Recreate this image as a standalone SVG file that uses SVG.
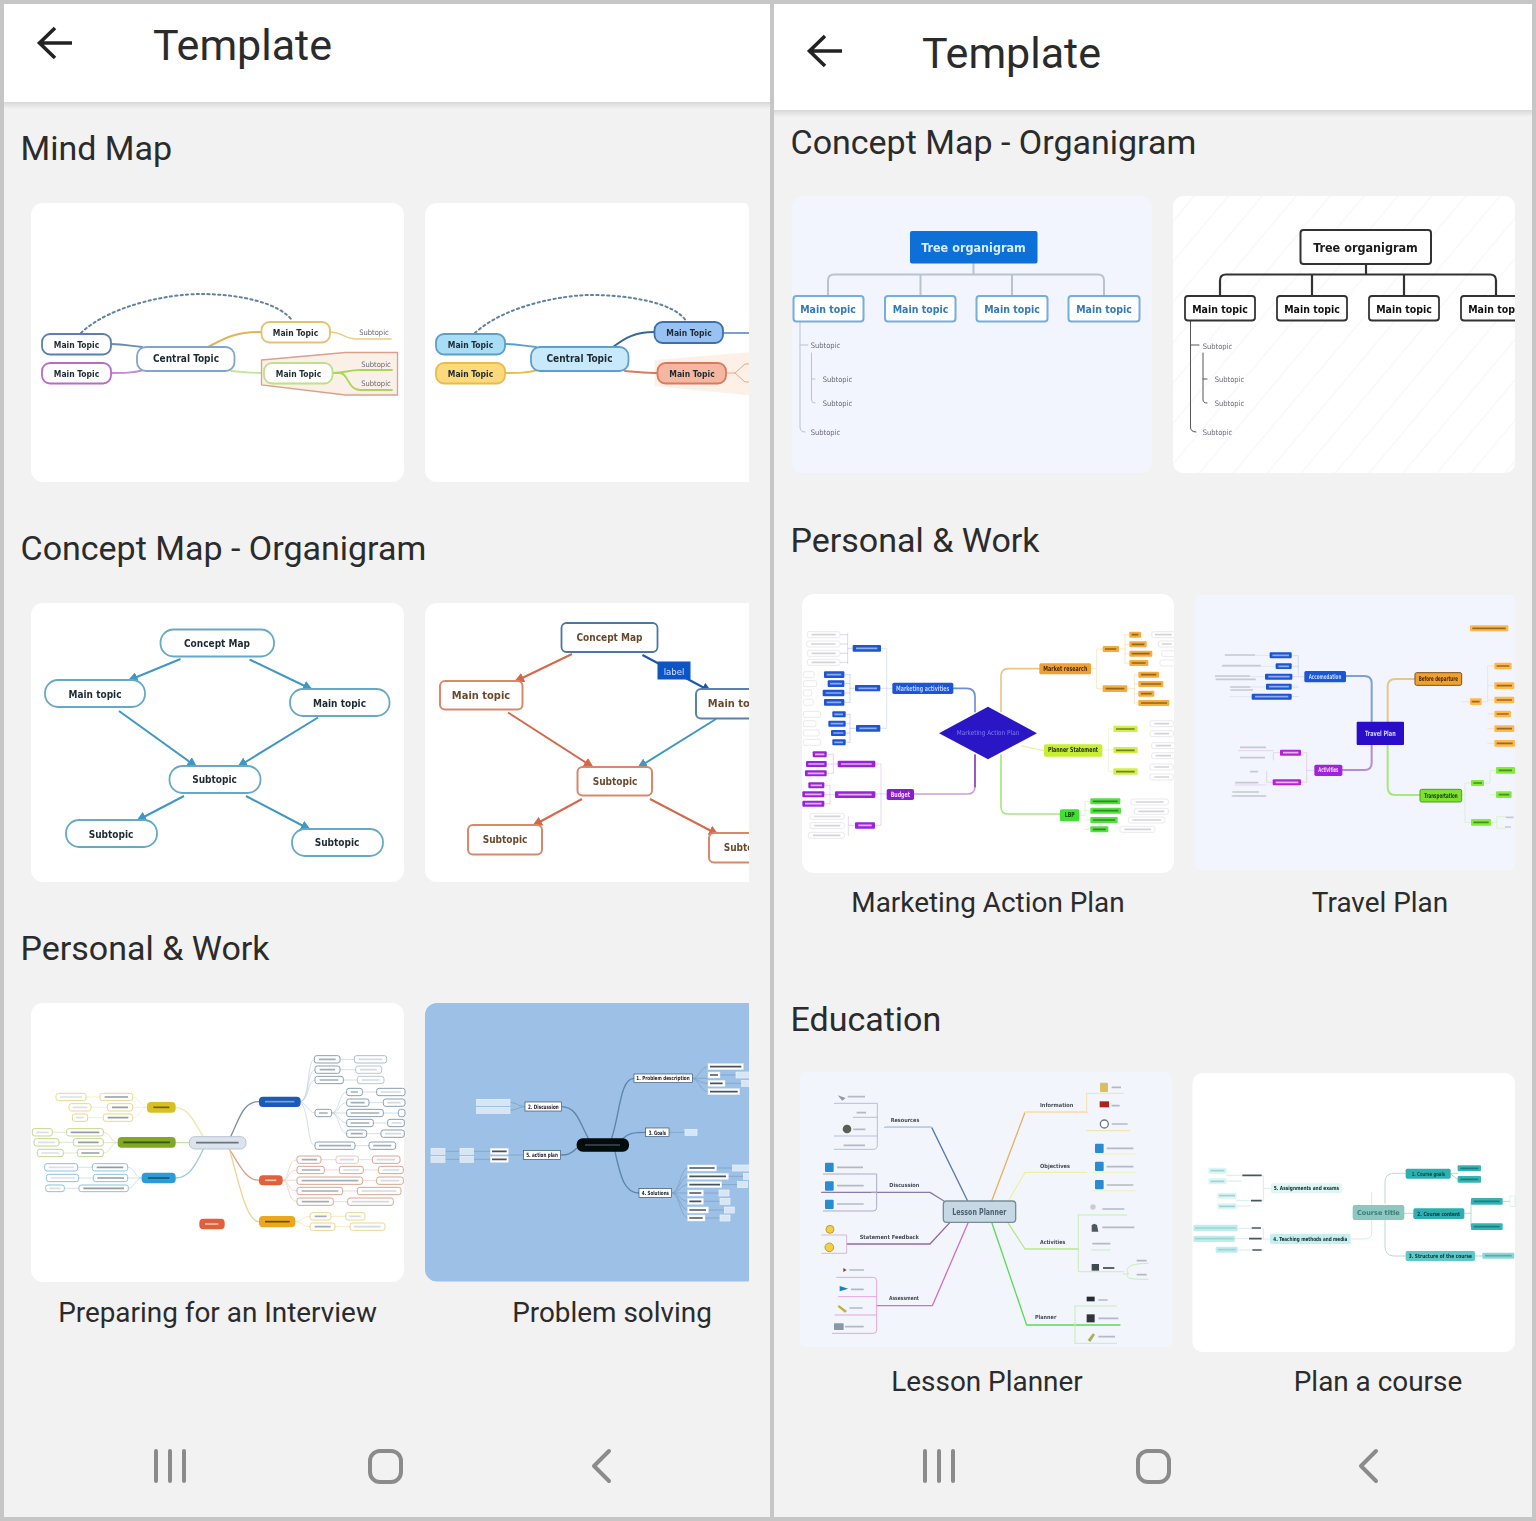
<svg xmlns="http://www.w3.org/2000/svg" width="1536" height="1521" viewBox="0 0 1536 1521">
<defs>
<style>
.ui{font-family:Roboto,"Liberation Sans",sans-serif;fill:#2b2b2b}
.h{font-size:43px}
.s{font-size:34px}
.c{font-size:27.9px;text-anchor:middle}
.n{font-family:"DejaVu Sans",sans-serif;font-stretch:condensed;font-weight:700;text-anchor:middle;dominant-baseline:central;fill:#1e2a33}
.m{font-size:8.5px}
.l{font-size:10px}
.sub{font-family:"DejaVu Sans",sans-serif;font-stretch:condensed;font-size:7.5px;text-anchor:middle;dominant-baseline:central;fill:#667}
.z{font-family:"DejaVu Sans",sans-serif;font-stretch:condensed;font-weight:700;text-anchor:middle;dominant-baseline:central}
.card{fill:#fff}
.nav{fill:none;stroke:#8b8b8b;stroke-width:4;stroke-linecap:round;stroke-linejoin:round}
.back{fill:none;stroke:#222;stroke-width:3.6}
.w{fill:none;stroke-linecap:round;stroke-linejoin:round}
.ar{fill:none;stroke-width:2}
.o{fill:#fff;stroke-width:3}
.bar{fill:none;stroke-width:5;stroke-linecap:butt}
</style>
<filter id="b1" x="-5%" y="-5%" width="110%" height="110%"><feGaussianBlur stdDeviation="0.5"/></filter>
<filter id="b2" x="-5%" y="-5%" width="110%" height="110%"><feGaussianBlur stdDeviation="0.6"/></filter>
<linearGradient id="hs" x1="0" y1="0" x2="0" y2="1"><stop offset="0" stop-color="#d8d8d8"/><stop offset="1" stop-color="#f2f2f2"/></linearGradient>
<pattern id="hatch" width="26" height="26" patternUnits="userSpaceOnUse" patternTransform="rotate(-50)"><rect width="26" height="26" fill="#fff"/><line x1="0" y1="0" x2="26" y2="0" stroke="#f8f8fa" stroke-width="3"/></pattern>
<marker id="aB" viewBox="0 0 10 10" refX="8" refY="5" markerWidth="5" markerHeight="5" orient="auto"><path d="M0 0L10 5L0 10z" fill="#3f97c4"/></marker>
<marker id="aO" viewBox="0 0 10 10" refX="8" refY="5" markerWidth="5" markerHeight="5" orient="auto"><path d="M0 0L10 5L0 10z" fill="#d4694a"/></marker>
<marker id="aD" viewBox="0 0 10 10" refX="8" refY="5" markerWidth="5" markerHeight="5" orient="auto"><path d="M0 0L10 5L0 10z" fill="#1d58ad"/></marker>
<clipPath id="cL"><rect x="425" y="200" width="324" height="1090" rx="10"/></clipPath>
<clipPath id="cR"><rect x="1172" y="190" width="343" height="1170" rx="8"/></clipPath>
<clipPath id="cM"><rect x="802" y="594" width="372" height="279" rx="12"/></clipPath>
</defs>

<rect width="1536" height="1521" fill="#c6c6c6"/>
<rect x="4" y="4" width="766" height="1513" fill="#f2f2f2"/>
<rect x="774" y="4" width="758" height="1513" fill="#f2f2f2"/>

<g id="header-left">
<rect x="4" y="102" width="766" height="7" fill="url(#hs)"/>
<rect x="4" y="4" width="766" height="98" fill="#fff"/>
<path class="back" d="M72 43H40M55 28L39.500 43L55 58"/>
<text class="ui h" x="153" y="60">Template</text>
</g>
<g id="header-right">
<rect x="774" y="110" width="758" height="7" fill="url(#hs)"/>
<rect x="774" y="4" width="758" height="106" fill="#fff"/>
<path class="back" d="M842 51H810M825 36L809.500 51L825 66"/>
<text class="ui h" x="922" y="68">Template</text>
</g>

<text class="ui s" x="20.500" y="160">Mind Map</text>
<text class="ui s" x="20.500" y="560">Concept Map - Organigram</text>
<text class="ui s" x="20.500" y="960">Personal &amp; Work</text>
<text class="ui s" x="790.500" y="154">Concept Map - Organigram</text>
<text class="ui s" x="790.500" y="552">Personal &amp; Work</text>
<text class="ui s" x="790.500" y="1031">Education</text>

<!-- Mind map 1 -->
<g id="card-mind-1" filter="url(#b1)">
<rect class="card" x="31" y="203" width="373" height="279" rx="12"/>
<g id="mind1-connectors" class="w">
<path d="M81 333C110 305 170 294 200 294C240 294 280 303 292.500 321" stroke="#5f82a4" stroke-width="2" stroke-dasharray="2.200 3.200"/>
<path d="M111 344C125 344 130 346 142 347" stroke="#6b8cae" stroke-width="1.800"/>
<path d="M111 373C125 373 132 373 144 370" stroke="#c48bd0" stroke-width="2"/>
<path d="M208 347C225 338 235 332 261 332" stroke="#e2b45a" stroke-width="2"/>
<path d="M231 371C245 372 250 373 264 373" stroke="#bfe59a" stroke-width="1.800"/>
<path d="M330 332C342 332 345 339 356 339H391" stroke="#e9cd80" stroke-width="1.600"/>
</g>
<path id="mind1-boundary" d="M261.500 360L345.500 352.500H397.500V395H345.500L261.500 385z" fill="#fbf0e8" stroke="#dba08a" stroke-width="1.300"/>
<path class="w" d="M333 373C345 373 348 370 360 370H392M340 373C348 373 348 390 360 390H392" stroke="#a9d857" stroke-width="1.800"/>
<g id="m1-a"><rect x="42" y="334" width="69" height="20.500" rx="8" fill="#fff" stroke="#5a7fb0" stroke-width="1.800"/><text class="n m" x="76.500" y="344.500">Main Topic</text></g>
<g id="m1-b"><rect x="42" y="363" width="69" height="20.500" rx="8" fill="#fff" stroke="#b96ac9" stroke-width="1.800"/><text class="n m" x="76.500" y="373.500">Main Topic</text></g>
<g id="m1-c"><rect x="137" y="347" width="97.500" height="24" rx="9" fill="#fff" stroke="#7fa6c7" stroke-width="1.800"/><text class="n l" x="186" y="358.500">Central Topic</text></g>
<g id="m1-d"><rect x="261.500" y="322" width="68.500" height="20.500" rx="8" fill="#fff" stroke="#e6c36a" stroke-width="1.800"/><text class="n m" x="295.500" y="333">Main Topic</text></g>
<g id="m1-e"><rect x="264" y="363" width="68.500" height="20.500" rx="8" fill="#fff" stroke="#bfe08a" stroke-width="1.800"/><text class="n m" x="298.500" y="373.500">Main Topic</text></g>
<text class="sub" x="374" y="332">Subtopic</text><text class="sub" x="376" y="364">Subtopic</text><text class="sub" x="376" y="383">Subtopic</text>
</g>

<!-- Mind map 2 -->
<g id="card-mind-2" clip-path="url(#cL)"><g filter="url(#b1)">
<rect class="card" x="425" y="203" width="340" height="279" rx="12"/>
<path d="M654.500 360L746 352.500H760V395H746L654.500 386z" fill="#fdf0e6"/>
<g id="mind2-connectors" class="w">
<path d="M475 333C505 305 565 295 590 295C630 295 675 303 686 321" stroke="#5f82a4" stroke-width="2" stroke-dasharray="2.200 3.200"/>
<path d="M505 344C519 344 524 346 536 347" stroke="#5aa0c8" stroke-width="1.800"/>
<path d="M505 373C519 373 526 373 538 370" stroke="#e9bb4a" stroke-width="2"/>
<path d="M613 347C625 338 635 332 654 332" stroke="#34669e" stroke-width="2"/>
<path d="M625 371C640 372 645 373 658 373" stroke="#d97a5e" stroke-width="2"/>
<path d="M723 333H752" stroke="#7aa0d0" stroke-width="1.800"/>
<path d="M726 373H735L745 364H752M735 373L745 382H752" stroke="#eaa58e" stroke-width="1"/>
</g>
<g id="m2-a"><rect x="436" y="334" width="69" height="20.500" rx="8" fill="#a9dcf5" stroke="#5aa0c8" stroke-width="1.800"/><text class="n m" x="470.500" y="344.500">Main Topic</text></g>
<g id="m2-b"><rect x="436" y="363" width="69" height="20.500" rx="8" fill="#fcd97a" stroke="#e9bb4a" stroke-width="1.800"/><text class="n m" x="470.500" y="373.500">Main Topic</text></g>
<g id="m2-c"><rect x="531" y="347" width="97.500" height="24" rx="9" fill="#c7e9fb" stroke="#5aa0c8" stroke-width="1.800"/><text class="n l" x="579.500" y="358.500">Central Topic</text></g>
<g id="m2-d"><rect x="654.500" y="322" width="68.500" height="21" rx="8" fill="#99c2f2" stroke="#3a6fb0" stroke-width="1.800"/><text class="n m" x="689" y="333">Main Topic</text></g>
<g id="m2-e"><rect x="657.500" y="363" width="68.500" height="20.500" rx="8" fill="#f5b7a1" stroke="#d97a5e" stroke-width="1.800"/><text class="n m" x="692" y="373.500">Main Topic</text></g>
</g></g>

<!-- Concept 1 -->
<g id="card-concept-1" filter="url(#b1)">
<rect class="card" x="31" y="603" width="373" height="279" rx="12"/>
<g id="concept1-connectors" class="ar" stroke="#3f97c4">
<path d="M180.500 659L129.500 680" marker-end="url(#aB)"/>
<path d="M249.500 659.500L311 689" marker-end="url(#aB)"/>
<path d="M119 711L195.500 766" marker-end="url(#aB)"/>
<path d="M318 717.500L239 766" marker-end="url(#aB)"/>
<path d="M184 796L138 820" marker-end="url(#aB)"/>
<path d="M246 796L309 829" marker-end="url(#aB)"/>
</g>
<g fill="#fff" stroke="#66a9c7" stroke-width="1.800">
<g id="c1-a"><rect x="160.500" y="629.500" width="113.500" height="27" rx="13"/><text class="n l" stroke="none" x="217" y="643.500">Concept Map</text></g>
<g id="c1-b"><rect x="45" y="680" width="100" height="27" rx="13"/><text class="n l" stroke="none" x="95" y="694">Main topic</text></g>
<g id="c1-c"><rect x="290" y="689" width="99.500" height="27" rx="13"/><text class="n l" stroke="none" x="339.500" y="703">Main topic</text></g>
<g id="c1-d"><rect x="169.500" y="766" width="91" height="27" rx="13"/><text class="n l" stroke="none" x="214.500" y="779.500">Subtopic</text></g>
<g id="c1-e"><rect x="66" y="820" width="91" height="27" rx="13"/><text class="n l" stroke="none" x="111" y="834">Subtopic</text></g>
<g id="c1-f"><rect x="292" y="829" width="91" height="27" rx="13"/><text class="n l" stroke="none" x="337" y="842.500">Subtopic</text></g>
</g>
</g>

<!-- Concept 2 -->
<g id="card-concept-2" clip-path="url(#cL)"><g filter="url(#b1)">
<rect class="card" x="425" y="603" width="340" height="279" rx="12"/>
<g id="concept2-connectors" class="ar">
<path d="M572 654L516 681" stroke="#d4694a" marker-end="url(#aO)"/>
<path d="M508 712.500L592 766.500" stroke="#d4694a" marker-end="url(#aO)"/>
<path d="M582 799L534 825" stroke="#d4694a" marker-end="url(#aO)"/>
<path d="M650 799L717 834" stroke="#d4694a" marker-end="url(#aO)"/>
<path d="M642.500 655L710 691" stroke="#1d58ad" marker-end="url(#aD)"/>
<path d="M716 719L639 767" stroke="#3f97c4" marker-end="url(#aB)"/>
</g>
<g id="c2-label"><rect x="657.500" y="661.500" width="33" height="18" fill="#0b55c7"/><text x="674" y="671" font-family="'DejaVu Sans',sans-serif" font-stretch="condensed" font-size="9.500" text-anchor="middle" dominant-baseline="central" fill="#cfe0ff">label</text></g>
<g id="c2-a"><rect x="561.500" y="623" width="96" height="29" rx="5" fill="#fff" stroke="#4a78a8" stroke-width="1.800"/><text class="n l" style="fill:#6a4a2c" x="609.500" y="637">Concept Map</text></g>
<g id="c2-b"><rect x="440" y="681" width="82.500" height="28.500" rx="5" fill="#fff" stroke="#d9876a" stroke-width="2"/><text class="n l" style="fill:#6a4a2c;font-size:11px" x="481" y="695">Main topic</text></g>
<g id="c2-c"><rect x="696" y="689" width="82" height="29.500" rx="5" fill="#fff" stroke="#5a80b0" stroke-width="2"/><text class="n l" style="fill:#6a4a2c;font-size:11px" x="737" y="703.500">Main topic</text></g>
<g id="c2-d"><rect x="577.500" y="767" width="74.500" height="28.500" rx="5" fill="#fff" stroke="#d9876a" stroke-width="2"/><text class="n l" style="fill:#6a4a2c" x="615" y="781">Subtopic</text></g>
<g id="c2-e"><rect x="468" y="825" width="74" height="29.500" rx="5" fill="#fff" stroke="#d9876a" stroke-width="2"/><text class="n l" style="fill:#6a4a2c" x="505" y="839.500">Subtopic</text></g>
<g id="c2-f"><rect x="709" y="833" width="74" height="29.500" rx="5" fill="#fff" stroke="#d9876a" stroke-width="2"/><text class="n l" style="fill:#6a4a2c" x="746" y="847.500">Subtopic</text></g>
</g></g>

<!-- Preparing for an interview -->
<g id="card-interview" filter="url(#b2)">
<rect class="card" x="31" y="1003" width="373" height="279" rx="12"/>
<g transform="translate(20 1000) scale(.33333)">
<g id="int-connectors" class="w" stroke-width="4">
<path d="M632 410C660 350 670 305 717 305" stroke="#7e8fa3"/>
<path d="M628 447C660 500 680 541 717 541" stroke="#d9a48e"/>
<path d="M628 447C660 560 680 665 717 665" stroke="#efd28e"/>
<path d="M550 410C525 370 505 322 467 322" stroke="#efe7a5"/>
<path d="M508 428H467" stroke="#c8dc9c"/>
<path d="M550 447C525 500 505 534 467 534" stroke="#9cc8e0"/>
<g stroke-width="2" stroke="#c0cfdb" fill="none">
<path d="M842 305C870 300 860 178 883 178M842 305C870 300 860 209 885 209M842 305C870 300 860 240 885 240M842 305C860 310 865 339 885 339M842 305C870 340 860 437 885 437M960 178H1003M960 209H1007M970 240H1012M935 339C960 339 955 276 980 276M935 339C960 339 955 308 980 308M935 339H980M935 339C960 339 955 369 980 369M935 339C960 339 955 401 980 401M1027 276H1070M1047 308H1090M1090 339H1135M1060 369H1103M1040 401H1083M1005 437H1047"/>
<path stroke="#e6c9be" d="M788 541C810 541 800 479 831 479M788 541C810 541 800 510 831 510M788 541H831M788 541C810 541 800 573 831 573M788 541C810 541 800 605 831 605M903 479H948M1015 479H1057M913 510H958M1030 510H1075M1028 542H1070M968 573H1012M940 605H983"/>
<path stroke="#ecdfb0" d="M826 665C850 665 845 649 870 649M826 665C850 665 845 680 870 680M933 649H977M945 680H990"/>
<path stroke="#ecebc0" d="M381 322C360 322 360 291 338 291M381 322H338M381 322C360 322 360 353 338 353M240 291H198M262 322H213M250 353H203"/>
<path stroke="#d0e0b0" d="M293 428C270 428 275 397 250 397M293 428H250M293 428C270 428 275 459 250 459M140 397H97M160 427H117M172 459H130"/>
<path stroke="#b8d6e6" d="M365 534C345 534 345 502 323 502M365 534H323M365 534C345 534 345 565 325 565M217 502H173M220 534H176M177 565H133"/>
</g>
</g>
<g fill="#fff" stroke-width="3">
<g stroke="#8aa0b4">
<rect x="883" y="167" width="77" height="22" rx="7"/><rect x="885" y="198" width="75" height="22" rx="7"/><rect x="885" y="229" width="85" height="22" rx="7"/><rect x="885" y="328" width="50" height="22" rx="7"/><rect x="980" y="265" width="47" height="22" rx="7"/><rect x="980" y="297" width="67" height="22" rx="7"/><rect x="980" y="328" width="110" height="22" rx="7"/><rect x="980" y="358" width="80" height="22" rx="7"/><rect x="980" y="390" width="60" height="22" rx="7"/><rect x="885" y="426" width="120" height="22" rx="7"/><rect x="1047" y="426" width="80" height="22" rx="7"/><rect x="1070" y="265" width="85" height="22" rx="7"/><rect x="1090" y="297" width="65" height="22" rx="7"/><rect x="1135" y="328" width="20" height="22" rx="7"/><rect x="1103" y="358" width="50" height="22" rx="7"/><rect x="1083" y="390" width="70" height="22" rx="7"/>
<rect x="1003" y="167" width="97" height="22" rx="7" stroke-opacity=".7"/><rect x="1007" y="198" width="78" height="22" rx="7" stroke-opacity=".6"/><rect x="1012" y="229" width="80" height="22" rx="7" stroke-opacity=".6"/>
</g>
<g stroke="#d8a492">
<rect x="831" y="468" width="72" height="22" rx="7"/><rect x="948" y="468" width="67" height="22" rx="7" stroke-opacity=".6"/><rect x="1057" y="468" width="83" height="22" rx="7"/><rect x="831" y="499" width="82" height="22" rx="7"/><rect x="958" y="499" width="72" height="22" rx="7"/><rect x="1075" y="499" width="75" height="22" rx="7"/><rect x="831" y="531" width="197" height="22" rx="7"/><rect x="1070" y="531" width="80" height="22" rx="7"/><rect x="831" y="562" width="137" height="22" rx="7"/><rect x="1012" y="562" width="131" height="22" rx="7"/><rect x="831" y="594" width="109" height="22" rx="7"/><rect x="983" y="594" width="137" height="22" rx="7"/>
</g>
<g stroke="#e9d690">
<rect x="870" y="638" width="63" height="22" rx="7"/><rect x="977" y="638" width="58" height="22" rx="7"/><rect x="870" y="669" width="75" height="22" rx="7"/><rect x="990" y="669" width="105" height="22" rx="7"/>
<rect x="240" y="280" width="98" height="22" rx="7"/><rect x="108" y="280" width="90" height="22" rx="7"/><rect x="262" y="311" width="76" height="22" rx="7"/><rect x="147" y="311" width="66" height="22" rx="7"/><rect x="250" y="342" width="88" height="22" rx="7"/><rect x="157" y="342" width="46" height="22" rx="7"/>
</g>
<g stroke="#c2d68e">
<rect x="140" y="386" width="110" height="22" rx="7"/><rect x="37" y="386" width="60" height="22" rx="7"/><rect x="160" y="416" width="90" height="22" rx="7"/><rect x="42" y="416" width="75" height="22" rx="7"/><rect x="172" y="448" width="78" height="22" rx="7"/><rect x="52" y="448" width="78" height="22" rx="7"/>
</g>
<g stroke="#8cc2de">
<rect x="217" y="491" width="106" height="22" rx="7"/><rect x="74" y="491" width="99" height="22" rx="7"/><rect x="220" y="523" width="103" height="22" rx="7"/><rect x="79" y="523" width="97" height="22" rx="7"/><rect x="177" y="555" width="148" height="20" rx="7"/><rect x="77" y="555" width="56" height="20" rx="7"/>
</g>
</g>
<path class="bar" stroke="#a4aeb6" d="M897 178h50M899 209h46M899 240h56M897 339h26M992 276h22M992 308h42M992 339h86M992 369h56M992 401h36M897 437h96M1060 437h54M845 479h46M845 510h56M845 542h170M845 573h110M845 605h82M884 649h36M884 680h48"/>
<path class="bar" stroke="#d4dadf" d="M1015 178h72M1020 209h50M1025 240h54M1082 276h60M1102 308h40M1115 369h30M1095 401h48M960 479h42M1070 479h56M970 510h48M1088 510h50M1082 542h56M1025 573h104M995 605h112M988 649h34M1002 680h80"/>
<path class="bar" stroke="#969ca3" d="M254 291h70M276 322h48M263 353h62M152 397h86M174 427h62M184 459h54M230 502h80M232 534h80M190 565h122"/>
<path class="bar" stroke="#dde0e3" d="M120 291h66M158 322h44M168 353h24M48 397h38M54 427h52M64 459h54M86 502h76M92 534h74M88 565h34"/>
<g id="int-central"><rect x="508" y="410" width="170" height="37" rx="16" fill="#dde3ec" stroke="#b8c4d4" stroke-width="3"/><path class="bar" stroke="#6a747e" d="M528 428h128"/></g>
<g id="int-a"><rect x="717" y="290" width="125" height="31" rx="12" fill="#1a5ab8"/><path class="bar" stroke="#7f9fcc" d="M735 305h88"/></g>
<g id="int-b"><rect x="717" y="526" width="71" height="30" rx="12" fill="#e0603a"/><path class="bar" stroke="#f4c0ae" d="M735 541h34"/></g>
<g id="int-c"><rect x="717" y="648" width="109" height="34" rx="12" fill="#eaa820"/><path class="bar" stroke="#6a4e14" d="M735 665h74"/></g>
<g id="int-d"><rect x="538" y="656" width="76" height="32" rx="12" fill="#e0603a"/><path class="bar" stroke="#f4c0ae" d="M555 672h40"/></g>
<g id="int-e"><rect x="381" y="306" width="86" height="32" rx="12" fill="#d8c020"/><path class="bar" stroke="#6a6016" d="M400 322h48"/></g>
<g id="int-f"><rect x="293" y="411" width="174" height="32" rx="12" fill="#80a820"/><path class="bar" stroke="#3a5214" d="M310 427h140"/></g>
<g id="int-g"><rect x="365" y="518" width="102" height="32" rx="12" fill="#2a9cd8"/><path class="bar" stroke="#16587c" d="M384 534h64"/></g>
</g>
</g>

<!-- Problem solving -->
<g id="card-problem" clip-path="url(#cL)"><g filter="url(#b1)">
<rect x="425" y="1003" width="340" height="278.500" rx="12" fill="#9cc0e6"/>
<g transform="translate(420 1000) scale(.33333)">
<g id="prob-connectors" class="w" stroke="#5a86ad" stroke-width="4">
<path d="M575 415C600 340 600 235 642 235"/><path d="M505 415C480 370 470 320 425 320"/><path d="M610 415C625 400 640 397 677 397"/><path d="M585 455C600 520 610 579 657 579"/><path d="M470 445C450 465 440 465 422 465"/>
<g stroke-width="2.500" stroke="#7ea4c6"><path d="M817 235C840 235 840 200 864 200M817 235H864M817 235C840 240 840 250 864 250M817 235C840 240 840 275 864 275M900 225H950M915 250H965M747 397H795"/>
<path d="M755 579C780 579 780 504 803 504M755 579C780 579 780 529 803 529M755 579C780 579 780 554 803 554M755 579H803M755 579C780 579 780 604 803 604M755 579C780 579 780 630 803 630M755 579C780 579 780 654 803 654M890 504H938M925 529H970M905 554H955M850 579H897M850 604H900M865 630H913M855 654H900"/>
<path d="M315 320C295 320 290 307 270 307M315 320C295 320 290 331 270 331M311 465H265M211 454H160M211 478H160M118 454H75M118 478H75"/></g>
</g>
<g id="prob-central"><rect x="470" y="415" width="157" height="40" rx="18" fill="#05070d"/><path class="bar" stroke="#4a4650" d="M495 435h105"/></g>
<g fill="#fff" stroke="#33506b" stroke-width="2">
<g id="p1"><rect x="642" y="222" width="175" height="26"/><text class="z" stroke="none" fill="#223" font-size="17" x="729" y="235" textLength="160" lengthAdjust="spacingAndGlyphs">1. Problem description</text></g>
<g id="p2"><rect x="315" y="306" width="110" height="27"/><text class="z" stroke="none" fill="#223" font-size="18" x="370" y="320" textLength="92" lengthAdjust="spacingAndGlyphs">2. Discussion</text></g>
<g id="p3"><rect x="677" y="384" width="70" height="26"/><text class="z" stroke="none" fill="#223" font-size="18" x="712" y="397" textLength="52" lengthAdjust="spacingAndGlyphs">3. Goals</text></g>
<g id="p4"><rect x="657" y="566" width="98" height="26"/><text class="z" stroke="none" fill="#223" font-size="17" x="706" y="579" textLength="82" lengthAdjust="spacingAndGlyphs">4. Solutions</text></g>
<g id="p5"><rect x="311" y="452" width="111" height="26"/><text class="z" stroke="none" fill="#223" font-size="18" x="366" y="465" textLength="95" lengthAdjust="spacingAndGlyphs">5. action plan</text></g>
</g>
<g fill="#fff" stroke="#dfeaf4" stroke-width="1.500">
<rect x="864" y="191" width="106" height="18"/><rect x="864" y="216" width="36" height="18"/><rect x="864" y="241" width="51" height="18"/><rect x="864" y="266" width="95" height="18"/>
<rect x="803" y="495" width="87" height="18"/><rect x="803" y="520" width="122" height="18"/><rect x="803" y="545" width="102" height="18"/><rect x="803" y="570" width="47" height="18"/><rect x="803" y="595" width="47" height="18"/><rect x="803" y="621" width="62" height="18"/><rect x="803" y="645" width="52" height="18"/>
<rect x="211" y="445" width="54" height="18"/><rect x="211" y="469" width="54" height="18"/>
</g>
<path class="bar" stroke="#4a5260" stroke-width="4" d="M870 200h94M870 225h24M870 250h38M870 275h83M808 504h76M808 529h110M808 554h92M808 579h36M808 604h36M808 630h50M808 654h40M216 454h44M216 478h44"/>
<g fill="#d6e6f5" stroke="#eef4fa" stroke-width="2">
<rect x="948" y="216" width="42" height="18"/><rect x="965" y="241" width="25" height="18"/><rect x="795" y="388" width="36" height="18"/><rect x="938" y="495" width="50" height="18"/><rect x="970" y="520" width="18" height="18"/><rect x="953" y="545" width="30" height="18"/><rect x="897" y="570" width="30" height="18"/><rect x="900" y="595" width="30" height="18"/><rect x="913" y="621" width="30" height="18"/><rect x="900" y="645" width="30" height="18"/>
<rect x="170" y="298" width="100" height="18"/><rect x="170" y="322" width="100" height="18"/><rect x="120" y="445" width="40" height="18"/><rect x="120" y="469" width="40" height="18"/><rect x="33" y="445" width="42" height="18"/><rect x="33" y="469" width="42" height="18"/>
</g>
</g>
</g></g>

<!-- Organigram blue -->
<g id="card-org-1" filter="url(#b1)">
<rect x="792" y="196.500" width="360" height="276.500" rx="10" fill="#f2f5fd"/>
<g id="org1-connectors" class="w" stroke="#b9c3cf" stroke-width="2">
<path d="M973.500 263V274.500M828 296V280.500Q828 274.500 834 274.500H1098Q1104 274.500 1104 280.500V296M920.500 274.500V296M1012 274.500V296"/>
<g stroke-width="1"><path d="M800 322V427Q800 432 805 432M800 345H808M811.500 353V400Q811.500 403 815 403M811.500 379H815"/></g>
</g>
<g id="o1-root"><rect x="910" y="231" width="127.500" height="32.500" rx="2" fill="#0b6fd8"/><text class="n" style="fill:#d8ecff;font-size:12.500px" x="973.500" y="247.500">Tree organigram</text></g>
<g fill="#fff" stroke="#75aedb" stroke-width="2">
<g id="o1-a"><rect x="793.500" y="296" width="70" height="25.500" rx="3"/><text class="n" stroke="none" style="fill:#3279b8;font-size:10.500px" x="828" y="309">Main topic</text></g>
<g id="o1-b"><rect x="885" y="296" width="70.500" height="25.500" rx="3"/><text class="n" stroke="none" style="fill:#3279b8;font-size:10.500px" x="920.500" y="309">Main topic</text></g>
<g id="o1-c"><rect x="976.500" y="296" width="71" height="25.500" rx="3"/><text class="n" stroke="none" style="fill:#3279b8;font-size:10.500px" x="1012" y="309">Main topic</text></g>
<g id="o1-d"><rect x="1068.500" y="296" width="71" height="25.500" rx="3"/><text class="n" stroke="none" style="fill:#3279b8;font-size:10.500px" x="1104" y="309">Main topic</text></g>
</g>
<text class="sub" x="825.500" y="345.500">Subtopic</text><text class="sub" x="837.500" y="379.500">Subtopic</text><text class="sub" x="837.500" y="403.500">Subtopic</text><text class="sub" x="825.500" y="432.500">Subtopic</text>
</g>

<!-- Organigram mono -->
<g id="card-org-2" clip-path="url(#cR)"><g filter="url(#b1)">
<rect x="1173" y="196" width="342" height="277" rx="10" fill="url(#hatch)"/>
<g id="org2-connectors" class="w" stroke="#333" stroke-width="2.200">
<path d="M1366 264V274.500M1220 296V280.500Q1220 274.500 1226 274.500H1490Q1496 274.500 1496 280.500V296M1312 274.500V296M1404 274.500V296"/>
<g stroke-width="1" stroke="#555"><path d="M1190.500 320V427Q1190.500 432 1196 432M1190.500 345H1199M1203 353V400Q1203 403 1207 403M1203 379H1207"/></g>
</g>
<g id="o2-root"><rect x="1300.500" y="230" width="130.500" height="34" rx="3" fill="#fff" stroke="#333" stroke-width="2"/><text class="n" style="fill:#1a1a1a;font-size:12.500px" x="1365.500" y="247.500">Tree organigram</text></g>
<g fill="#fff" stroke="#333" stroke-width="1.800">
<g id="o2-a"><rect x="1185" y="296" width="70" height="24.500" rx="3"/><text class="n" stroke="none" style="fill:#111;font-size:10.500px" x="1220" y="309">Main topic</text></g>
<g id="o2-b"><rect x="1277" y="296" width="70" height="24.500" rx="3"/><text class="n" stroke="none" style="fill:#111;font-size:10.500px" x="1312" y="309">Main topic</text></g>
<g id="o2-c"><rect x="1369" y="296" width="70" height="24.500" rx="3"/><text class="n" stroke="none" style="fill:#111;font-size:10.500px" x="1404" y="309">Main topic</text></g>
<g id="o2-d"><rect x="1461" y="296" width="70" height="24.500" rx="3"/><text class="n" stroke="none" style="fill:#111;font-size:10.500px" x="1496" y="309">Main topic</text></g>
</g>
<text class="sub" x="1217.500" y="346">Subtopic</text><text class="sub" x="1229.500" y="379.500">Subtopic</text><text class="sub" x="1229.500" y="403.500">Subtopic</text><text class="sub" x="1217.500" y="432.500">Subtopic</text>
</g></g>

<!-- Marketing -->
<g id="card-marketing" clip-path="url(#cM)"><g filter="url(#b2)">
<rect x="802" y="594" width="372" height="279" fill="#fff"/>
<g transform="translate(795 590) scale(.33333)">
<g id="mk-connectors" class="w" stroke-width="5">
<path d="M540 365V320Q540 295 515 295H475" stroke="#6f8ed8"/>
<path d="M540 495V590Q540 612 515 612H357" stroke="#c9a0e0"/><path d="M540 495V590" stroke="#9048c0"/>
<path d="M618 365V260Q618 236 640 236H733" stroke="#eac58a"/>
<path d="M680 468L747 482" stroke="#eef0b0" stroke-width="4"/>
<path d="M618 495V650Q618 672 640 672H795" stroke="#a8e878"/>
<g stroke-width="2">
<path stroke="#d0d8ee" d="M292 295H275V175H258M275 295H256M275 295V415H256"/>
<path stroke="#c0c8de" d="M180 295H165M165 254V337M148 254H165M148 281H165M148 309H165M148 337H165M183 415H165M165 373V457M152 373H165M152 401H165M152 429H165M152 457H165M173 175H158M158 130V220M135 134H158M135 162H158M135 190H158M135 217H158"/>
<path stroke="#dcc4e8" d="M275 612H258V522H241M258 612H241M258 612V706H240M128 522H115M115 493V550M95 493H115M95 522H115M95 550H115M120 614H105M105 586V641M88 586H105M88 614H105M88 641H105M180 706H160V680M160 706V736"/>
<path stroke="#f0dcb8" d="M888 236H905V177H923M905 236V296H923M972 177H990M990 134V219M990 134H1003M990 163H1003M990 191H1003M990 219H1003M997 296H1018M1018 254V339M1018 254H1030M1018 282H1030M1018 311H1030M1018 339H1030"/>
<path stroke="#eef0c8" d="M922 480H940V417H955M940 480H955M940 480V545H955"/>
<path stroke="#c8eeb8" d="M853 676H870V634H886M870 662H886M870 690H886M870 718H886"/>
</g>
</g>
<g fill="#fff" stroke="#e0e0e4" stroke-width="2">
<rect x="37" y="125" width="98" height="18" rx="6"/><rect x="35" y="153" width="100" height="18" rx="6"/><rect x="37" y="181" width="98" height="18" rx="6"/><rect x="37" y="208" width="98" height="18" rx="6"/>
<rect x="25" y="245" width="33" height="18" rx="6"/><rect x="25" y="272" width="40" height="18" rx="6"/><rect x="25" y="300" width="25" height="18" rx="6"/><rect x="25" y="328" width="30" height="18" rx="6"/><rect x="25" y="364" width="52" height="18" rx="6"/><rect x="25" y="392" width="38" height="18" rx="6"/><rect x="25" y="420" width="48" height="18" rx="6"/><rect x="25" y="448" width="52" height="18" rx="6"/>
<rect x="45" y="670" width="103" height="18" rx="6"/><rect x="45" y="698" width="103" height="18" rx="6"/><rect x="40" y="727" width="108" height="18" rx="6"/>
<rect x="1070" y="125" width="70" height="18" rx="6"/><rect x="1090" y="153" width="50" height="18" rx="6"/><rect x="1100" y="182" width="40" height="18" rx="6"/><rect x="1095" y="210" width="45" height="18" rx="6"/>
<rect x="1065" y="392" width="70" height="18" rx="6"/><rect x="1065" y="422" width="70" height="18" rx="6"/><rect x="1070" y="458" width="70" height="18" rx="6"/><rect x="1070" y="488" width="70" height="18" rx="6"/><rect x="1065" y="522" width="70" height="18" rx="6"/><rect x="1065" y="552" width="70" height="18" rx="6"/>
<rect x="1008" y="627" width="112" height="18" rx="6"/><rect x="1018" y="655" width="102" height="18" rx="6"/><rect x="1000" y="681" width="110" height="18" rx="6"/><rect x="975" y="709" width="105" height="18" rx="6"/>
</g>
<path class="bar" stroke="#d4d4d8" stroke-width="4" d="M50 134h72M48 162h74M50 190h72M50 217h72M58 679h78M58 707h78M54 736h82M1080 134h50M1100 162h30M1022 636h84M1030 664h78M1012 690h86M988 718h80M1078 401h44M1078 431h44M1082 467h46M1082 497h46M1078 531h44M1078 561h44"/>
<g fill="#1a55d6">
<rect x="173" y="165" width="85" height="20" rx="3"/><rect x="180" y="285" width="76" height="19" rx="3"/><rect x="183" y="405" width="73" height="20" rx="3"/><rect x="87" y="244" width="61" height="20" rx="3"/><rect x="98" y="271" width="50" height="20" rx="3"/><rect x="83" y="299" width="65" height="20" rx="3"/><rect x="87" y="327" width="61" height="20" rx="3"/><rect x="112" y="364" width="40" height="18" rx="3"/><rect x="100" y="392" width="52" height="18" rx="3"/><rect x="108" y="420" width="44" height="18" rx="3"/><rect x="112" y="448" width="40" height="18" rx="3"/>
</g>
<g fill="#9a24d8">
<rect x="128" y="512" width="113" height="20" rx="3"/><rect x="120" y="604" width="121" height="20" rx="3"/><rect x="180" y="697" width="60" height="19" rx="3"/><rect x="53" y="484" width="42" height="18" rx="3"/><rect x="33" y="513" width="62" height="18" rx="3"/><rect x="30" y="541" width="65" height="18" rx="3"/><rect x="40" y="577" width="48" height="18" rx="3"/><rect x="22" y="604" width="66" height="18" rx="3"/><rect x="22" y="632" width="66" height="18" rx="3"/>
</g>
<g fill="#f6ab3c">
<rect x="923" y="168" width="49" height="18" rx="3"/><rect x="923" y="286" width="74" height="20" rx="3"/><rect x="1003" y="125" width="35" height="18" rx="3"/><rect x="1003" y="154" width="52" height="18" rx="3"/><rect x="1003" y="182" width="69" height="18" rx="3"/><rect x="1003" y="210" width="57" height="18" rx="3"/><rect x="1030" y="245" width="62" height="18" rx="3"/><rect x="1030" y="273" width="75" height="18" rx="3"/><rect x="1030" y="302" width="48" height="18" rx="3"/><rect x="1030" y="330" width="93" height="18" rx="3"/>
</g>
<g fill="#d2f04a"><rect x="955" y="407" width="73" height="19" rx="3"/><rect x="955" y="471" width="73" height="19" rx="3"/><rect x="955" y="535" width="73" height="19" rx="3"/></g>
<g fill="#55e042"><rect x="886" y="625" width="90" height="18" rx="3"/><rect x="886" y="653" width="92" height="18" rx="3"/><rect x="886" y="681" width="82" height="18" rx="3"/><rect x="886" y="709" width="54" height="18" rx="3"/></g>
<path class="bar" stroke="#8fabe8" stroke-width="4" d="M183 175h64M190 295h56M193 415h52M95 254h44M105 281h36M92 309h48M95 337h44M118 373h26M107 401h38M115 429h30M118 457h26"/>
<path class="bar" stroke="#dcb4f0" stroke-width="4" d="M138 522h92M130 614h100M190 706h40M60 493h28M40 522h48M38 550h50M47 586h34M30 613h50M30 641h50"/>
<path class="bar" stroke="#94661c" stroke-width="4" d="M930 177h34M932 296h56M1010 134h20M1010 163h38M1010 191h54M1010 219h42M1038 254h46M1038 282h60M1038 311h32M1038 339h78"/>
<path class="bar" stroke="#728420" stroke-width="4" d="M963 417h56M963 481h56M963 545h56"/>
<path class="bar" stroke="#2a8c20" stroke-width="4" d="M894 634h74M894 662h76M894 690h66M894 718h38"/>
<g id="mk-central"><path d="M432 430L579 350L726 430L579 508z" fill="#2b16c4"/><text x="579" y="429" font-family="'DejaVu Sans',sans-serif" font-stretch="condensed" font-size="20" text-anchor="middle" dominant-baseline="central" fill="#7f7cf0" textLength="188" lengthAdjust="spacingAndGlyphs">Marketing Action Plan</text></g>
<g id="mk-a"><rect x="292" y="278" width="183" height="34" rx="5" fill="#1a55d6"/><text class="z" fill="#b8d0ff" font-size="22" x="383" y="295" textLength="160" lengthAdjust="spacingAndGlyphs">Marketing activities</text></g>
<g id="mk-b"><rect x="275" y="597" width="82" height="33" rx="5" fill="#8a1fd0"/><text class="z" fill="#f0d8ff" font-size="22" x="316" y="613" textLength="58" lengthAdjust="spacingAndGlyphs">Budget</text></g>
<g id="mk-c"><rect x="733" y="220" width="155" height="33" rx="5" fill="#f0a030"/><text class="z" fill="#4a2a08" font-size="21" x="811" y="236" textLength="132" lengthAdjust="spacingAndGlyphs">Market research</text></g>
<g id="mk-d"><rect x="747" y="463" width="175" height="37" rx="5" fill="#c6ee30"/><text class="z" fill="#243008" font-size="21" x="834" y="481" textLength="150" lengthAdjust="spacingAndGlyphs">Planner Statement</text></g>
<g id="mk-e"><rect x="795" y="658" width="58" height="36" rx="5" fill="#3fe030"/><text class="z" fill="#0c4a08" font-size="21" x="824" y="676" textLength="30" lengthAdjust="spacingAndGlyphs">LBP</text></g>
</g>
</g></g>

<!-- Travel -->
<g id="card-travel" clip-path="url(#cR)"><g filter="url(#b2)">
<rect x="1195" y="595" width="320" height="275" rx="6" fill="#f2f5fd"/>
<g transform="translate(1185 590) scale(.33333)">
<g id="tr-connectors" class="w" stroke-width="6">
<path d="M560 395V280Q560 258 538 258H483" stroke="#7f9fd8"/>
<path d="M608 395V290Q608 267 630 267H690" stroke="#eac58a"/>
<path d="M560 465V518Q560 540 538 540H472" stroke="#b58ad8"/>
<path d="M608 465V592Q608 615 630 615H705" stroke="#a8e878"/>
<g stroke-width="2">
<path stroke="#c8d0e6" d="M358 260H340V197H320M340 229H320M340 260H322M340 291H320M340 320H320"/>
<path stroke="#dcc4e8" d="M388 541H365V488H348M365 541V577H348M285 488H265V510M265 482H160M263 577H245V545M245 585H150M245 618H140"/>
<path stroke="#f0dcb8" d="M830 335H855M890 335H908V228H928M908 287H928M908 330H928M908 372H928M908 416H928M908 460H928"/>
<path stroke="#d0eec0" d="M830 615H840V579H858M840 615V697H858M897 579H915V541H933M915 614H933M918 697H935V680H960M935 697V715H960"/>
<path stroke="#dcdce4" d="M254 196H120M272 229H110M240 260H90M243 291H135M200 320H135"/>
</g>
</g>
<path class="bar" stroke="#c6c9d2" stroke-width="4" d="M120 195h90M112 227h115M90 258h105M92 268h120M136 291h60M136 300h68M165 472h78M165 503h75M195 545h24M150 578h70M142 606h80M142 618h100M962 682h24M960 711h18"/>
<g fill="#1a55d6"><rect x="254" y="187" width="66" height="18" rx="3"/><rect x="272" y="220" width="48" height="17" rx="3"/><rect x="240" y="251" width="82" height="18" rx="3"/><rect x="243" y="281" width="77" height="18" rx="3"/><rect x="200" y="311" width="120" height="18" rx="3"/></g>
<path class="bar" stroke="#8fabe8" stroke-width="4" d="M262 196h50M280 229h32M250 260h64M252 290h60M210 320h100"/>
<g fill="#b424d8"><rect x="285" y="479" width="63" height="18" rx="3"/><rect x="263" y="568" width="85" height="18" rx="3"/></g>
<path class="bar" stroke="#e0b8f0" stroke-width="4" d="M294 488h46M272 577h68"/>
<g fill="#ffb84d"><rect x="855" y="106" width="115" height="18" rx="3"/><rect x="855" y="325" width="35" height="20" rx="3"/><rect x="928" y="218" width="52" height="20" rx="3"/><rect x="928" y="277" width="60" height="20" rx="3"/><rect x="928" y="320" width="60" height="20" rx="3"/><rect x="928" y="362" width="50" height="20" rx="3"/><rect x="928" y="406" width="60" height="20" rx="3"/><rect x="928" y="450" width="62" height="20" rx="3"/></g>
<path class="bar" stroke="#9a6a20" stroke-width="4" d="M862 115h100M860 335h24M935 228h38M935 287h46M935 330h46M935 372h36M935 416h46M935 460h48"/>
<g fill="#86ea3a"><rect x="858" y="570" width="39" height="18" rx="3"/><rect x="858" y="687" width="60" height="20" rx="3"/><rect x="933" y="531" width="57" height="20" rx="3"/><rect x="933" y="604" width="47" height="20" rx="3"/></g>
<path class="bar" stroke="#4c8c20" stroke-width="4" d="M865 579h26M865 697h46M941 541h40M941 614h32"/>
<g id="tr-central"><rect x="515" y="395" width="142" height="70" rx="3" fill="#2a10c8"/><text class="z" fill="#d8d4ff" font-size="22" x="586" y="430" textLength="92" lengthAdjust="spacingAndGlyphs">Travel Plan</text></g>
<g id="tr-a"><rect x="358" y="243" width="125" height="34" rx="5" fill="#1a55d6"/><text class="z" fill="#c8dcff" font-size="20" x="420" y="260" textLength="98" lengthAdjust="spacingAndGlyphs">Accomodation</text></g>
<g id="tr-b"><rect x="690" y="248" width="140" height="38" rx="5" fill="#f0a030" stroke="#80500c" stroke-width="3"/><text class="z" fill="#4a2a08" font-size="20" x="760" y="267" textLength="118" lengthAdjust="spacingAndGlyphs">Before departure</text></g>
<g id="tr-c"><rect x="388" y="524" width="84" height="34" rx="5" fill="#a020e0"/><text class="z" fill="#f4dcff" font-size="20" x="430" y="541" textLength="60" lengthAdjust="spacingAndGlyphs">Activities</text></g>
<g id="tr-d"><rect x="705" y="598" width="125" height="38" rx="5" fill="#80e030" stroke="#4ca016" stroke-width="3"/><text class="z" fill="#1c4008" font-size="20" x="768" y="617" textLength="100" lengthAdjust="spacingAndGlyphs">Transportation</text></g>
</g>
</g></g>

<!-- Lesson planner -->
<g id="card-lesson" filter="url(#b2)">
<rect x="800" y="1072" width="372" height="275" rx="6" fill="#f2f5fb"/>
<g transform="translate(795 1070) scale(.33333)">
<g id="ls-connectors" class="w" stroke-width="4">
<path d="M518 393L410 172H270" stroke="#5a7ab0"/><path d="M410 172H270" stroke="#c0cce0"/>
<path d="M447 393L405 367H80" stroke="#8a7aa8"/>
<path d="M465 457L405 522H155" stroke="#8f69a8"/>
<path d="M520 457L412 707H245" stroke="#d070c8"/>
<path d="M590 393L690 127H875" stroke="#e8b060"/><path d="M690 127H875" stroke="#f4e2b8"/>
<path d="M640 393L690 307H875" stroke="#eef2a0"/>
<path d="M640 460L690 537H850" stroke="#b4e890"/>
<path d="M590 457L695 765H975" stroke="#60d858"/>
<g stroke-width="3">
<path stroke="#b4c0dc" d="M118 100H247V225Q247 238 235 238H118M175 142H247M118 198H247"/>
<path stroke="#b0a8c8" d="M85 312H245V412Q245 423 235 423H85M245 367H230"/>
<path stroke="#d8b8d8" d="M80 495H155V550H80"/>
<path stroke="#e0a8dc" d="M125 622H235Q245 622 245 632V780Q245 790 235 790H112M130 680H245M120 735H245"/>
<path stroke="#f4e0a8" d="M875 70H985M875 182H1005M875 127V70"/>
<path stroke="#eef2c0" d="M890 252H1020M890 307H1020M890 362H1020"/>
<path stroke="#c8ecb8" d="M850 435H995M850 435V605H985M890 540H945M985 612H1000C990 595 1000 580 1060 580M1000 612C990 625 1000 628 1060 628"/>
<path stroke="#c8ecb8" d="M840 708H965M840 820H965M840 708V820"/>
</g>
</g>
<g id="ls-central"><rect x="445" y="393" width="217" height="64" rx="10" fill="#c5d8e4" stroke="#7a8a96" stroke-width="4"/><text class="z" fill="#4d6070" font-size="26" x="553" y="425" textLength="162" lengthAdjust="spacingAndGlyphs">Lesson Planner</text></g>
<g class="z" fill="#444b55" font-size="17"><text x="330" y="150" textLength="86" lengthAdjust="spacingAndGlyphs">Resources</text><text x="328" y="346" textLength="90" lengthAdjust="spacingAndGlyphs">Discussion</text><text x="283" y="500" textLength="178" lengthAdjust="spacingAndGlyphs">Statement Feedback</text><text x="327" y="685" textLength="90" lengthAdjust="spacingAndGlyphs">Assessment</text><text x="785" y="105" textLength="100" lengthAdjust="spacingAndGlyphs">Information</text><text x="780" y="287" textLength="90" lengthAdjust="spacingAndGlyphs">Objectives</text><text x="773" y="516" textLength="76" lengthAdjust="spacingAndGlyphs">Activities</text><text x="752" y="741" textLength="64" lengthAdjust="spacingAndGlyphs">Planner</text></g>
<g fill="#2a8cd0"><rect x="90" y="278" width="26" height="28" rx="3"/><rect x="90" y="334" width="26" height="28" rx="3"/><rect x="90" y="389" width="26" height="28" rx="3"/><rect x="900" y="221" width="26" height="28" rx="3"/><rect x="900" y="275" width="26" height="28" rx="3"/><rect x="900" y="330" width="26" height="28" rx="3"/></g>
<g fill="#f4d040" stroke="#a08020" stroke-width="2"><circle cx="105" cy="478" r="12"/><circle cx="103" cy="532" r="13"/></g>
<g id="ls-icons">
<path d="M128 76l24 8-10 8z" fill="#9098a4"/><circle cx="156" cy="177" r="13" fill="#5a6050"/>
<path d="M145 594l10 6-10 6z" fill="#884040"/><path d="M134 648l26 8-26 8z" fill="#2080b0"/><path d="M132 705l24 18-6 5-22-18z" fill="#c0b040"/><rect x="117" y="760" width="29" height="20" rx="2" fill="#8898a8"/>
<rect x="915" y="38" width="24" height="28" rx="3" fill="#d8c060"/><rect x="914" y="94" width="28" height="18" fill="#b02020"/><circle cx="928" cy="162" r="12" fill="#fff" stroke="#707880" stroke-width="4"/>
<path d="M890 465l8-4 8 4 4 20h-20z" fill="#505860"/><circle cx="894" cy="411" r="8" fill="#c8ccd0"/><path d="M890 582h22v20h-22z" fill="#404850"/>
<rect x="875" y="680" width="24" height="14" fill="#282c30"/><rect x="875" y="733" width="24" height="24" fill="#303438"/><path d="M878 810l16-20 6 4-14 22z" fill="#a8b060"/>
</g>
<path class="bar" stroke="#b4bac4" stroke-width="4" d="M158 80h52M185 128h28M175 178h36M146 226h64M126 292h78M126 347h80M126 402h80M163 600h44M168 658h38M163 714h40M150 770h56M950 52h28M950 107h24M950 162h48M935 235h80M935 290h80M935 345h80M922 417h66M922 472h96M892 521h54M1025 572h30M1025 614h30M910 690h28M910 745h60M910 800h50"/>
<path class="bar" stroke="#40464e" stroke-width="6" d="M924 594h34"/>
</g>
</g>

<!-- Plan a course -->
<g id="card-course" filter="url(#b2)">
<rect x="1192.500" y="1073" width="322.500" height="279" rx="10" fill="#fff"/>
<g transform="translate(1185 1070) scale(.33333)">
<g id="cs-connectors" class="w" stroke="#bcd8d4" stroke-width="3">
<path d="M600 400V335Q600 315 620 310H662M600 450V530Q600 555 625 558H662M658 430H685M838 430H858V394M858 430V470M797 310H818M797 312L818 328M953 394H975M870 558H892"/>
<path stroke="#d8ecea" d="M560 405V368M560 450V490Q560 507 540 507H497"/>
<path stroke="#d8ecea" d="M258 355H235V317H232M235 355V392H232M170 316H125M170 333H125M196 392H155M196 408H155M255 507H235M235 507V475H232M235 540H232M196 475H158M190 506H150M200 540H158"/>
</g>
<g id="cs-central"><rect x="503" y="405" width="155" height="45" rx="6" fill="#8cc8c0"/><text class="z" fill="#3d7c78" font-size="20" x="580" y="428" textLength="128" lengthAdjust="spacingAndGlyphs">Course title</text></g>
<g id="cs-a"><rect x="662" y="296" width="135" height="30" rx="5" fill="#2ab0b0"/><text class="z" fill="#0c4a4a" font-size="17" x="730" y="311" textLength="100" lengthAdjust="spacingAndGlyphs">1. Course goals</text></g>
<g id="cs-b"><rect x="685" y="415" width="153" height="32" rx="5" fill="#2ab0b0"/><text class="z" fill="#0c3838" font-size="17" x="761" y="431" textLength="128" lengthAdjust="spacingAndGlyphs">2. Course content</text></g>
<g id="cs-c"><rect x="662" y="543" width="208" height="30" rx="5" fill="#5cc8c8"/><text class="z" fill="#0c3838" font-size="17" x="766" y="558" textLength="190" lengthAdjust="spacingAndGlyphs">3. Structure of the course</text></g>
<g id="cs-d"><rect x="258" y="340" width="212" height="30" rx="5" fill="#e0f6f6"/><text class="z" fill="#102c2c" font-size="17" x="364" y="355" textLength="196" lengthAdjust="spacingAndGlyphs">5. Assignments and exams</text></g>
<g id="cs-e"><rect x="255" y="492" width="242" height="30" rx="5" fill="#c8eff0"/><text class="z" fill="#102c2c" font-size="17" x="376" y="507" textLength="222" lengthAdjust="spacingAndGlyphs">4. Teaching methods and media</text></g>
<g fill="#36b4b4"><rect x="818" y="286" width="70" height="18" rx="3"/><rect x="818" y="318" width="70" height="20" rx="3"/><rect x="858" y="384" width="95" height="20" rx="3"/><rect x="858" y="460" width="95" height="20" rx="3"/></g>
<rect x="892" y="548" width="96" height="18" rx="3" fill="#8ad8d8"/>
<g fill="#dcf5f5"><rect x="70" y="293" width="55" height="18" rx="3"/><rect x="70" y="325" width="55" height="18" rx="3"/><rect x="97" y="368" width="58" height="18" rx="3"/><rect x="97" y="400" width="58" height="18" rx="3"/></g>
<g fill="#bfeeee"><rect x="25" y="464" width="133" height="20" rx="3"/><rect x="25" y="497" width="125" height="19" rx="3"/><rect x="92" y="530" width="66" height="18" rx="3"/></g>
<rect x="975" y="378" width="15" height="32" fill="#fff" stroke="#d8e8e6" stroke-width="2"/>
<path class="bar" stroke="#1f8080" stroke-width="4" d="M826 295h54M826 328h54M866 394h78M866 470h78"/>
<path class="bar" stroke="#5aaaaa" stroke-width="4" d="M900 557h80"/>
<path class="bar" stroke="#a0d4d4" stroke-width="4" d="M76 302h42M76 334h42M102 377h48M102 409h48M30 474h124M30 506h116M98 539h54"/>
<path class="bar" stroke="#4a5658" stroke-width="4" d="M172 316h58M198 392h32M200 474h28M192 506h38M202 540h28"/>
</g>
</g>

<g id="captions">
<text class="ui c" x="217.500" y="1322">Preparing for an Interview</text>
<text class="ui c" x="612" y="1322">Problem solving</text>
<text class="ui c" x="988" y="912">Marketing Action Plan</text>
<text class="ui c" x="1380" y="912">Travel Plan</text>
<text class="ui c" x="987" y="1391">Lesson Planner</text>
<text class="ui c" x="1378" y="1391">Plan a course</text>
</g>

<g id="nav-left" class="nav"><path d="M156 1451V1481M170 1451V1481M184 1451V1481"/><rect x="370" y="1451" width="31" height="31" rx="10"/><path d="M609 1451L594 1466L609 1481"/></g>
<g id="nav-right" class="nav"><path d="M925 1451V1481M939 1451V1481M953 1451V1481"/><rect x="1138" y="1451" width="31" height="31" rx="10"/><path d="M1376 1451L1361 1466L1376 1481"/></g>
</svg>
